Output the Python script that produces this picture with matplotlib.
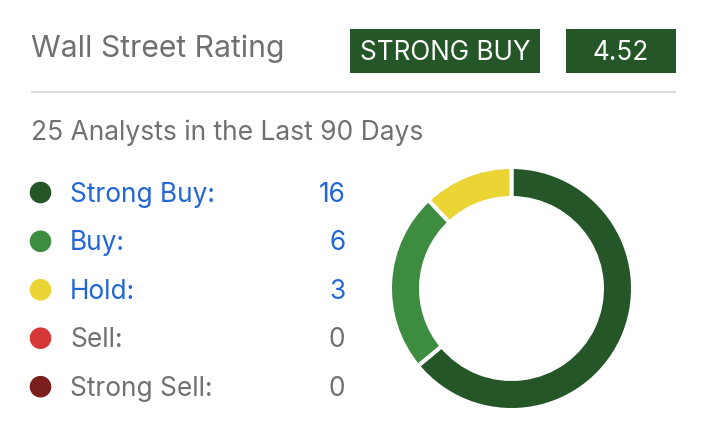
import matplotlib
matplotlib.use("Agg")
import matplotlib.pyplot as plt
from matplotlib.patches import Circle, Rectangle

# ---- data ----
title = "Wall Street Rating"
rating_label = "STRONG BUY"
rating_score = "4.52"
subtitle = "25 Analysts in the Last 90 Days"
categories = ["Strong Buy", "Buy", "Hold", "Sell", "Strong Sell"]
counts = [16, 6, 3, 0, 0]
colors = ["#255627", "#3d8c40", "#ebd535", "#d63838", "#7a1e1e"]

GREY = "#707070"
BLUE = "#2266d6"
FONT = ["Inter", "DejaVu Sans"]

W, H = 702, 436
fig = plt.figure(figsize=(W / 100, H / 100), dpi=100)
fig.patch.set_facecolor("white")

# full-figure axes in pixel coordinates (y downwards)
ax = fig.add_axes([0, 0, 1, 1])
ax.set_xlim(0, W)
ax.set_ylim(H, 0)
ax.axis("off")

ax.text(31, 57.0, title, fontsize=21.7, color=GREY, family=FONT, va="baseline", ha="left")

# rating boxes
ax.add_patch(Rectangle((350, 29), 190, 44, facecolor="#255627", edgecolor="none"))
ax.text(445, 59.5, rating_label, fontsize=18.8, color="white", family=FONT,
        va="baseline", ha="center")
ax.add_patch(Rectangle((566, 29), 110, 44, facecolor="#255627", edgecolor="none"))
ax.text(621, 59.5, rating_score, fontsize=18.8, color="white", family=FONT,
        va="baseline", ha="center")

# divider
ax.plot([31, 676], [92.5, 92.5], color="#dcdcdc", lw=1.6, solid_capstyle="butt")

ax.text(31, 139.5, subtitle, fontsize=19.0, color=GREY, family=FONT, va="baseline", ha="left")

# legend rows
row_base = [201.5, 250.3, 298.8, 347.2, 395.7]
for i, (cat, n, c) in enumerate(zip(categories, counts, colors)):
    yb = row_base[i]
    ax.add_patch(Circle((40.5, yb - 9.0), 10.8, facecolor=c, edgecolor="none"))
    tc = BLUE if n > 0 else GREY
    ax.text(70, yb, cat + ":", fontsize=18.9, color=tc, family=FONT, va="baseline", ha="left")
    ax.text(345.5, yb, str(n), fontsize=18.9, color=tc, family=FONT, va="baseline", ha="right")

# donut
cx, cy, half = 511.5, 288.5, 125
pax = fig.add_axes([(cx - half) / W, (H - cy - half) / H, 2 * half / W, 2 * half / H])
vals = [v for v in counts if v > 0]
cols = [c for v, c in zip(counts, colors) if v > 0]
R_out, ring = 119.5, 27
edge = 4
pax.pie(vals, colors=cols, startangle=90, counterclock=False,
        radius=R_out + edge / 2,
        wedgeprops=dict(width=ring + edge, edgecolor="white", linewidth=edge * 0.72,
                        joinstyle="round"))
pax.set_xlim(-half, half)
pax.set_ylim(-half, half)
pax.set_aspect("equal")
pax.axis("off")

fig.savefig("out.png", dpi=100, facecolor="white")
